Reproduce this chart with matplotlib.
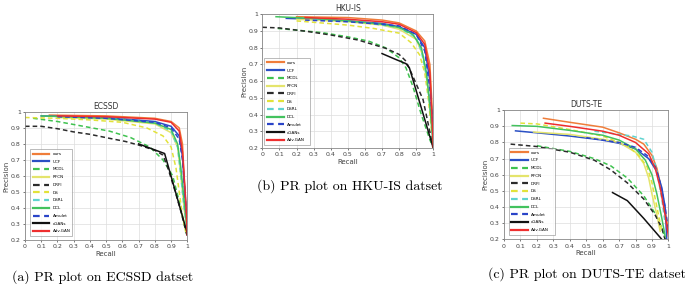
import matplotlib
matplotlib.use("Agg")
import matplotlib.pyplot as plt

methods = ["ours", "UCF", "MCDL", "RFCN", "DRFI", "DS", "DSRL", "DCL", "Amulet", "cGANs", "Adv.GAN"]
colors = {"ours": "#ef7d3a", "UCF": "#2a4fc4", "MCDL": "#3fc24f", "RFCN": "#e4e46c",
          "DRFI": "#2b2b2b", "DS": "#e2e23a", "DSRL": "#5fd3cf", "DCL": "#43c25e",
          "Amulet": "#2a44c8", "cGANs": "#111111", "Adv.GAN": "#ee2e2e"}
dashed = {"MCDL", "DRFI", "DS", "DSRL", "Amulet"}

# ECSSD
ecssd_recall = {
    "ours": [0.15, 0.5, 0.8, 0.9, 0.95, 0.97, 0.98, 0.99, 1.0],
    "UCF": [0.1, 0.5, 0.8, 0.9, 0.95, 0.97, 0.985, 1.0],
    "MCDL": [0.05, 0.2, 0.36, 0.52, 0.65, 0.77, 0.85, 0.91, 0.95, 0.98, 1.0],
    "RFCN": [0.2, 0.5, 0.8, 0.9, 0.94, 0.96, 0.98, 1.0],
    "DRFI": [0.0, 0.1, 0.2, 0.3, 0.4, 0.52, 0.62, 0.71, 0.8, 0.85, 0.88, 0.92, 0.96, 1.0],
    "DS": [0.0, 0.2, 0.4, 0.6, 0.75, 0.85, 0.9, 0.93, 0.95, 0.97, 0.99],
    "DSRL": [0.3, 0.6, 0.8, 0.9, 0.94, 0.96, 0.98, 1.0],
    "DCL": [0.1, 0.5, 0.8, 0.9, 0.94, 0.96, 0.98, 1.0],
    "Amulet": [0.2, 0.5, 0.8, 0.9, 0.95, 0.97, 0.985, 1.0],
    "cGANs": [0.7, 0.78, 0.86, 1.0],
    "Adv.GAN": [0.2, 0.5, 0.8, 0.9, 0.95, 0.97, 0.99, 1.0],
}
ecssd_prec = {
    "ours": [0.98, 0.975, 0.96, 0.94, 0.9, 0.8, 0.6, 0.4, 0.25],
    "UCF": [0.975, 0.965, 0.94, 0.91, 0.85, 0.72, 0.5, 0.28],
    "MCDL": [0.96, 0.94, 0.91, 0.88, 0.84, 0.78, 0.7, 0.6, 0.44, 0.3, 0.22],
    "RFCN": [0.965, 0.955, 0.925, 0.87, 0.78, 0.6, 0.4, 0.25],
    "DRFI": [0.91, 0.91, 0.895, 0.875, 0.86, 0.835, 0.815, 0.79, 0.76, 0.73, 0.65, 0.52, 0.38, 0.22],
    "DS": [0.965, 0.96, 0.95, 0.935, 0.9, 0.85, 0.78, 0.65, 0.5, 0.35, 0.25],
    "DSRL": [0.97, 0.955, 0.93, 0.88, 0.78, 0.6, 0.4, 0.25],
    "DCL": [0.975, 0.96, 0.93, 0.89, 0.8, 0.65, 0.45, 0.25],
    "Amulet": [0.97, 0.96, 0.935, 0.9, 0.83, 0.7, 0.5, 0.27],
    "cGANs": [0.8, 0.77, 0.74, 0.24],
    "Adv.GAN": [0.975, 0.97, 0.955, 0.935, 0.88, 0.75, 0.45, 0.23],
}

# HKU-IS
hku_recall = {
    "ours": [0.2, 0.5, 0.7, 0.8, 0.9, 0.95, 0.98, 0.99, 1.0],
    "UCF": [0.14, 0.3, 0.5, 0.7, 0.8, 0.9, 0.95, 0.98, 1.0],
    "MCDL": [0.09, 0.2, 0.35, 0.5, 0.62, 0.72, 0.8, 0.84, 0.88, 0.93, 0.98, 1.0],
    "RFCN": [0.2, 0.5, 0.7, 0.8, 0.9, 0.94, 0.97, 0.99],
    "DRFI": [0.0, 0.1, 0.27, 0.4, 0.56, 0.72, 0.8, 0.84, 0.88, 0.94, 1.0],
    "DS": [0.2, 0.5, 0.65, 0.8, 0.87, 0.92, 0.95, 0.97, 0.99],
    "DSRL": [0.3, 0.6, 0.8, 0.9, 0.93, 0.96, 0.98, 1.0],
    "DCL": [0.08, 0.3, 0.5, 0.7, 0.8, 0.88, 0.93, 0.96, 0.98, 1.0],
    "Amulet": [0.25, 0.5, 0.7, 0.8, 0.9, 0.95, 0.98, 1.0],
    "cGANs": [0.7, 0.78, 0.84, 0.86, 1.0],
    "Adv.GAN": [0.25, 0.5, 0.7, 0.8, 0.9, 0.95, 0.98, 1.0],
}
hku_prec = {
    "ours": [0.985, 0.98, 0.965, 0.948, 0.9, 0.84, 0.7, 0.5, 0.3],
    "UCF": [0.975, 0.97, 0.96, 0.945, 0.925, 0.88, 0.8, 0.6, 0.25],
    "MCDL": [0.915, 0.905, 0.89, 0.865, 0.84, 0.8, 0.74, 0.68, 0.57, 0.4, 0.25, 0.2],
    "RFCN": [0.97, 0.955, 0.935, 0.91, 0.85, 0.75, 0.55, 0.35],
    "DRFI": [0.922, 0.918, 0.896, 0.876, 0.846, 0.797, 0.76, 0.72, 0.63, 0.49, 0.2],
    "DS": [0.96, 0.935, 0.915, 0.887, 0.83, 0.757, 0.65, 0.5, 0.3],
    "DSRL": [0.97, 0.95, 0.92, 0.86, 0.78, 0.63, 0.45, 0.25],
    "DCL": [0.985, 0.975, 0.96, 0.94, 0.92, 0.88, 0.8, 0.65, 0.45, 0.2],
    "Amulet": [0.965, 0.955, 0.94, 0.93, 0.88, 0.78, 0.55, 0.3],
    "cGANs": [0.765, 0.73, 0.705, 0.68, 0.2],
    "Adv.GAN": [0.98, 0.97, 0.955, 0.94, 0.89, 0.82, 0.65, 0.2],
}

# DUTS-TE
duts_recall = {
    "ours": [0.24, 0.4, 0.6, 0.7, 0.8, 0.85, 0.9, 0.93, 0.96, 0.98, 1.0],
    "UCF": [0.07, 0.2, 0.4, 0.6, 0.7, 0.8, 0.88, 0.93, 0.96, 0.98, 0.99],
    "MCDL": [0.2, 0.4, 0.55, 0.65, 0.75, 0.85, 0.92, 0.96, 0.98],
    "RFCN": [0.18, 0.4, 0.6, 0.7, 0.8, 0.85, 0.88, 0.9, 0.93, 0.95],
    "DRFI": [0.04, 0.2, 0.4, 0.55, 0.65, 0.75, 0.85, 0.92, 0.96, 0.98],
    "DS": [0.1, 0.2, 0.4, 0.6, 0.75, 0.82, 0.87, 0.9, 0.93, 0.96],
    "DSRL": [0.55, 0.7, 0.78, 0.85, 0.9, 0.93, 0.96, 0.98],
    "DCL": [0.05, 0.2, 0.4, 0.6, 0.7, 0.8, 0.86, 0.9, 0.93, 0.96, 0.98],
    "Amulet": [0.5, 0.7, 0.8, 0.87, 0.92, 0.95, 0.98, 1.0],
    "cGANs": [0.66, 0.75, 0.85, 0.96],
    "Adv.GAN": [0.25, 0.4, 0.6, 0.7, 0.8, 0.88, 0.92, 0.95, 0.98, 1.0],
}
duts_prec = {
    "ours": [0.95, 0.925, 0.895, 0.86, 0.82, 0.79, 0.72, 0.64, 0.5, 0.38, 0.25],
    "UCF": [0.872, 0.86, 0.84, 0.815, 0.795, 0.76, 0.7, 0.62, 0.52, 0.4, 0.2],
    "MCDL": [0.78, 0.745, 0.7, 0.655, 0.58, 0.47, 0.36, 0.27, 0.2],
    "RFCN": [0.865, 0.85, 0.82, 0.8, 0.74, 0.67, 0.58, 0.48, 0.35, 0.25],
    "DRFI": [0.79, 0.775, 0.74, 0.69, 0.63, 0.55, 0.45, 0.35, 0.27, 0.2],
    "DS": [0.92, 0.915, 0.88, 0.84, 0.78, 0.72, 0.65, 0.55, 0.4, 0.25],
    "DSRL": [0.87, 0.85, 0.84, 0.82, 0.74, 0.62, 0.45, 0.3],
    "DCL": [0.905, 0.9, 0.875, 0.845, 0.815, 0.76, 0.69, 0.6, 0.48, 0.33, 0.22],
    "Amulet": [0.83, 0.8, 0.77, 0.72, 0.65, 0.55, 0.4, 0.25],
    "cGANs": [0.49, 0.44, 0.33, 0.2],
    "Adv.GAN": [0.92, 0.9, 0.87, 0.845, 0.8, 0.73, 0.64, 0.52, 0.35, 0.22],
}

panels = [
    ("ECSSD", ecssd_recall, ecssd_prec, [0.0365, 0.155, 0.237, 0.451],
     (0.02, 0.015, 0.28, 0.59), "(a) PR plot on ECSSD datset", (0.149, 0.025)),
    ("HKU-IS", hku_recall, hku_prec, [0.383, 0.478, 0.2496, 0.472],
     (0.0, 0.01, 0.29, 0.66), "(b) PR plot on HKU-IS datset", (0.511, 0.345)),
    ("DUTS-TE", duts_recall, duts_prec, [0.7358, 0.157, 0.240, 0.455],
     (0.015, 0.02, 0.31, 0.62), "(c) PR plot on DUTS-TE datset", (0.857, 0.035)),
]

fig = plt.figure(figsize=(6.85, 2.84), dpi=100)

for title, rec, prec, rect, lbox, caption, cpos in panels:
    ax = fig.add_axes(rect)
    for m in methods:
        ax.plot(rec[m], prec[m], color=colors[m], lw=1.1,
                ls=(0, (3, 2)) if m in dashed else "-", label=m)
    ax.set_xlim(0, 1)
    ax.set_ylim(0.2, 1)
    ax.set_xticks([i / 10 for i in range(11)])
    ax.set_xticklabels(["0"] + ["%.1f" % (i / 10) for i in range(1, 10)] + ["1"])
    ax.set_yticks([0.2 + i / 10 for i in range(9)])
    ax.set_yticklabels(["%.1f" % (0.2 + i / 10) for i in range(8)] + ["1"])
    ax.tick_params(labelsize=4.5, length=1.5, width=0.5, colors="#444444", pad=1.5)
    ax.grid(color="#dddddd", lw=0.5)
    for s in ax.spines.values():
        s.set_color("#888888")
        s.set_linewidth(0.6)
    ax.set_xlabel("Recall", fontsize=5, color="#444444", labelpad=1)
    ax.set_ylabel("Precision", fontsize=5, color="#444444", labelpad=1)
    ax.set_title(title, fontsize=5.5, color="#333333", pad=2)
    leg = ax.legend(loc="lower left", bbox_to_anchor=lbox, mode="expand",
                    fontsize=3, handlelength=4, labelspacing=0.9,
                    borderpad=0.6, frameon=True, fancybox=False)
    leg.get_frame().set_edgecolor("#888888")
    leg.get_frame().set_linewidth(0.5)
    for h in leg.get_lines():
        h.set_linewidth(1.6)
    fig.text(cpos[0], cpos[1], caption, family="cmr10", fontsize=10,
             ha="center", va="center")

fig.savefig("out.png", dpi=100)
